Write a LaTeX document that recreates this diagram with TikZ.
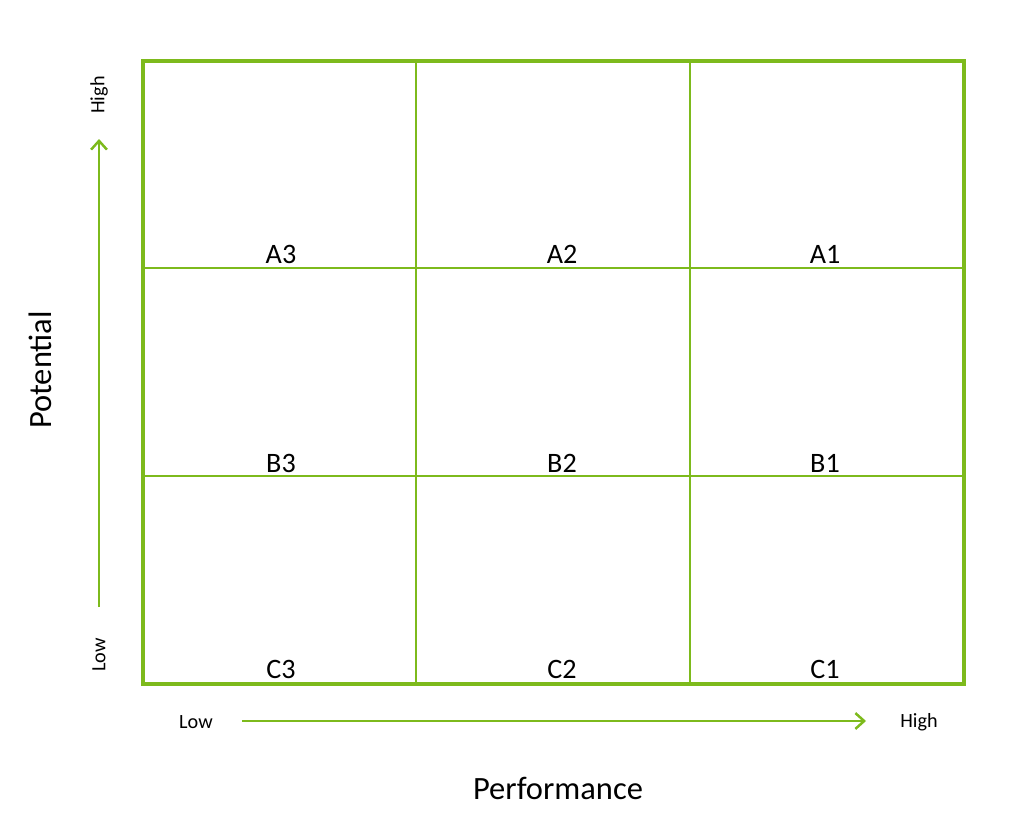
\documentclass[tikz,border=0pt]{standalone}
\usepackage{fontspec}
\setmainfont{Carlito}
\usetikzlibrary{arrows.meta}
\definecolor{leaf}{RGB}{125,186,28}

\begin{document}
\begin{tikzpicture}[x=0.02cm,y=-0.02cm]
\useasboundingbox (0,0) rectangle (1024,828);
\tikzset{cellname/.style={font=\fontsize{16}{18}\selectfont},
  axisname/.style={font=\fontsize{18.5}{21}\selectfont},
  endname/.style={font=\fontsize{11.5}{13}\selectfont},
  axisarrow/.style={leaf,line width=1.4pt,-{Straight Barb[length=5pt,width=9pt]}}}

% the nine boxes
\draw[leaf,line width=1pt] (416,61) -- (416,684) (690,61) -- (690,684)
  (143,268) -- (964,268) (143,476) -- (964,476);
\draw[leaf,line width=2pt] (143,61) rectangle (964,684);

\node[cellname] (A3) at (281,254) {A3};
\node[cellname] (A2) at (562,254) {A2};
\node[cellname] (A1) at (825,254) {A1};
\node[cellname] (B3) at (281,463) {B3};
\node[cellname] (B2) at (562,463) {B2};
\node[cellname] (B1) at (825,463) {B1};
\node[cellname] (C3) at (281,669) {C3};
\node[cellname] (C2) at (562,669) {C2};
\node[cellname] (C1) at (825,669) {C1};

% axes
\node[axisname,rotate=90] (pot) at (40,370) {Potential};
\node[axisname] (perf) at (558,788) {Performance};

\node[endname,rotate=90] (vlow) at (99,655) {Low};
\node[endname,rotate=90] (vhigh) at (99,95) {High};
\node[endname] (hlow) at (196,722) {Low};
\node[endname] (hhigh) at (919,722) {High};

\coordinate (vfrom) at (99,607);
\coordinate (vto) at (99,139);
\coordinate (hfrom) at (242,721);
\coordinate (hto) at (866,721);
\draw[axisarrow] (vfrom) -- (vto);
\draw[axisarrow] (hfrom) -- (hto);
\end{tikzpicture}
\end{document}
